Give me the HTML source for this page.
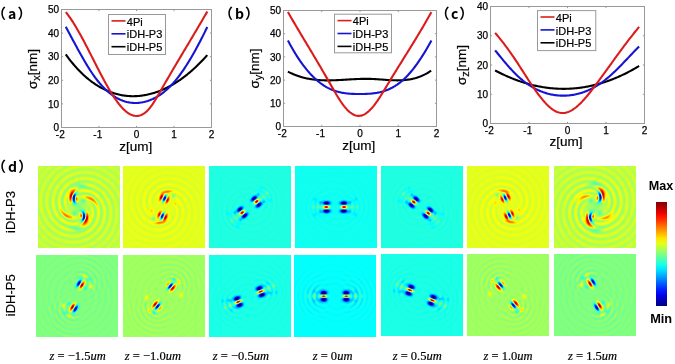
<!DOCTYPE html>
<html><head><meta charset="utf-8"><title>Figure</title>
<style>
html,body{margin:0;padding:0;background:#fff;width:675px;height:364px;overflow:hidden}
#root{position:relative;width:675px;height:364px;background:#fff}
svg{position:absolute;left:0;top:0}
</style></head><body><div id="root">
<canvas id="t00" width="82" height="82" style="position:absolute;left:38px;top:166px;width:82px;height:82px;background:#c2ff3d;filter:blur(0.45px)"></canvas>
<canvas id="t01" width="82" height="82" style="position:absolute;left:123px;top:166px;width:82px;height:82px;background:#e2ff1d;filter:blur(0.45px)"></canvas>
<canvas id="t02" width="82" height="82" style="position:absolute;left:209px;top:166px;width:82px;height:82px;background:#1fffe0;filter:blur(0.45px)"></canvas>
<canvas id="t03" width="82" height="82" style="position:absolute;left:295px;top:166px;width:82px;height:82px;background:#0ffff0;filter:blur(0.45px)"></canvas>
<canvas id="t04" width="82" height="82" style="position:absolute;left:381px;top:166px;width:82px;height:82px;background:#1fffe0;filter:blur(0.45px)"></canvas>
<canvas id="t05" width="82" height="82" style="position:absolute;left:467px;top:166px;width:82px;height:82px;background:#e2ff1d;filter:blur(0.45px)"></canvas>
<canvas id="t06" width="82" height="82" style="position:absolute;left:554px;top:166px;width:82px;height:82px;background:#c2ff3d;filter:blur(0.45px)"></canvas>
<canvas id="t10" width="82" height="82" style="position:absolute;left:36px;top:255px;width:82px;height:82px;background:#80ff80;filter:blur(0.45px)"></canvas>
<canvas id="t11" width="82" height="82" style="position:absolute;left:123px;top:255px;width:82px;height:82px;background:#9eff61;filter:blur(0.45px)"></canvas>
<canvas id="t12" width="82" height="82" style="position:absolute;left:209px;top:255px;width:82px;height:82px;background:#1affe5;filter:blur(0.45px)"></canvas>
<canvas id="t13" width="82" height="82" style="position:absolute;left:294px;top:255px;width:82px;height:82px;background:#03fffc;filter:blur(0.45px)"></canvas>
<canvas id="t14" width="82" height="82" style="position:absolute;left:381px;top:254px;width:82px;height:82px;background:#1affe5;filter:blur(0.45px)"></canvas>
<canvas id="t15" width="82" height="82" style="position:absolute;left:467px;top:254px;width:82px;height:82px;background:#9eff61;filter:blur(0.45px)"></canvas>
<canvas id="t16" width="82" height="82" style="position:absolute;left:554px;top:254px;width:82px;height:82px;background:#80ff80;filter:blur(0.45px)"></canvas>
<div style="position:absolute;left:656px;top:202px;width:11px;height:104px;background:linear-gradient(to bottom,#800000 0.0%,#b30000 5.0%,#e50000 10.0%,#ff1a00 15.0%,#ff4c00 20.0%,#ff8000 25.0%,#ffb300 30.0%,#ffe500 35.0%,#e5ff1a 40.0%,#b3ff4c 45.0%,#80ff80 50.0%,#4cffb3 55.0%,#1affe5 60.0%,#00e5ff 65.0%,#00b3ff 70.0%,#0080ff 75.0%,#004cff 80.0%,#001aff 85.0%,#0000e5 90.0%,#0000b3 95.0%,#000080 100.0%)"></div>
<svg width="675" height="364" viewBox="0 0 675 364">
<clipPath id="clipa"><rect x="61.50" y="9.50" width="150.00" height="118.00"/></clipPath>
<path d="M65.80,54.47 L66.80,55.85 L67.80,57.20 L68.80,58.53 L69.80,59.82 L70.80,61.09 L71.80,62.33 L72.80,63.54 L73.80,64.73 L74.80,65.89 L75.80,67.02 L76.80,68.13 L77.80,69.21 L78.80,70.27 L79.80,71.30 L80.80,72.30 L81.80,73.29 L82.80,74.24 L83.80,75.17 L84.80,76.08 L85.80,76.97 L86.80,77.83 L87.80,78.66 L88.80,79.48 L89.80,80.27 L90.80,81.04 L91.80,81.79 L92.80,82.52 L93.80,83.22 L94.80,83.90 L95.80,84.57 L96.80,85.21 L97.80,85.83 L98.80,86.43 L99.80,87.01 L100.80,87.57 L101.80,88.11 L102.80,88.64 L103.80,89.14 L104.80,89.63 L105.80,90.09 L106.80,90.54 L107.80,90.97 L108.80,91.39 L109.80,91.78 L110.80,92.16 L111.80,92.52 L112.80,92.86 L113.80,93.19 L114.80,93.50 L115.80,93.79 L116.80,94.06 L117.80,94.32 L118.80,94.56 L119.80,94.78 L120.80,94.99 L121.80,95.18 L122.80,95.35 L123.80,95.51 L124.80,95.65 L125.80,95.77 L126.80,95.88 L127.80,95.97 L128.80,96.05 L129.80,96.11 L130.80,96.15 L131.80,96.18 L132.80,96.19 L133.80,96.19 L134.80,96.17 L135.80,96.14 L136.80,96.09 L137.80,96.02 L138.80,95.94 L139.80,95.85 L140.80,95.74 L141.80,95.61 L142.80,95.48 L143.80,95.32 L144.80,95.15 L145.80,94.97 L146.80,94.77 L147.80,94.56 L148.80,94.33 L149.80,94.09 L150.80,93.84 L151.80,93.57 L152.80,93.28 L153.80,92.98 L154.80,92.67 L155.80,92.34 L156.80,92.00 L157.80,91.64 L158.80,91.27 L159.80,90.89 L160.80,90.49 L161.80,90.07 L162.80,89.64 L163.80,89.20 L164.80,88.74 L165.80,88.26 L166.80,87.77 L167.80,87.27 L168.80,86.75 L169.80,86.22 L170.80,85.67 L171.80,85.10 L172.80,84.52 L173.80,83.93 L174.80,83.32 L175.80,82.69 L176.80,82.05 L177.80,81.40 L178.80,80.73 L179.80,80.04 L180.80,79.34 L181.80,78.63 L182.80,77.89 L183.80,77.15 L184.80,76.38 L185.80,75.61 L186.80,74.81 L187.80,74.00 L188.80,73.18 L189.80,72.34 L190.80,71.48 L191.80,70.61 L192.80,69.72 L193.80,68.82 L194.80,67.90 L195.80,66.97 L196.80,66.02 L197.80,65.05 L198.80,64.07 L199.80,63.08 L200.80,62.06 L201.80,61.04 L202.80,59.99 L203.80,58.93 L204.80,57.86 L205.80,56.76 L206.80,55.66 L207.30,55.10" fill="none" stroke="#000000" stroke-width="2.1" stroke-linejoin="round" stroke-linecap="butt" clip-path="url(#clipa)"/>
<path d="M65.80,26.85 L66.80,28.70 L67.80,30.56 L68.80,32.42 L69.80,34.28 L70.80,36.15 L71.80,38.02 L72.80,39.89 L73.80,41.75 L74.80,43.61 L75.80,45.46 L76.80,47.31 L77.80,49.14 L78.80,50.96 L79.80,52.77 L80.80,54.57 L81.80,56.34 L82.80,58.10 L83.80,59.84 L84.80,61.55 L85.80,63.24 L86.80,64.91 L87.80,66.54 L88.80,68.15 L89.80,69.73 L90.80,71.27 L91.80,72.77 L92.80,74.25 L93.80,75.68 L94.80,77.07 L95.80,78.42 L96.80,79.73 L97.80,80.99 L98.80,82.22 L99.80,83.41 L100.80,84.55 L101.80,85.66 L102.80,86.73 L103.80,87.76 L104.80,88.75 L105.80,89.71 L106.80,90.63 L107.80,91.51 L108.80,92.36 L109.80,93.17 L110.80,93.95 L111.80,94.69 L112.80,95.40 L113.80,96.08 L114.80,96.73 L115.80,97.34 L116.80,97.92 L117.80,98.46 L118.80,98.97 L119.80,99.46 L120.80,99.91 L121.80,100.32 L122.80,100.71 L123.80,101.06 L124.80,101.39 L125.80,101.68 L126.80,101.95 L127.80,102.18 L128.80,102.38 L129.80,102.56 L130.80,102.70 L131.80,102.82 L132.80,102.90 L133.80,102.96 L134.80,102.99 L135.80,102.99 L136.80,102.96 L137.80,102.91 L138.80,102.83 L139.80,102.72 L140.80,102.58 L141.80,102.42 L142.80,102.23 L143.80,102.02 L144.80,101.77 L145.80,101.51 L146.80,101.21 L147.80,100.90 L148.80,100.55 L149.80,100.19 L150.80,99.79 L151.80,99.37 L152.80,98.93 L153.80,98.45 L154.80,97.95 L155.80,97.42 L156.80,96.86 L157.80,96.28 L158.80,95.66 L159.80,95.01 L160.80,94.33 L161.80,93.62 L162.80,92.88 L163.80,92.11 L164.80,91.30 L165.80,90.46 L166.80,89.59 L167.80,88.68 L168.80,87.74 L169.80,86.76 L170.80,85.75 L171.80,84.70 L172.80,83.61 L173.80,82.49 L174.80,81.33 L175.80,80.14 L176.80,78.90 L177.80,77.64 L178.80,76.33 L179.80,75.00 L180.80,73.63 L181.80,72.22 L182.80,70.79 L183.80,69.32 L184.80,67.82 L185.80,66.29 L186.80,64.73 L187.80,63.14 L188.80,61.52 L189.80,59.88 L190.80,58.20 L191.80,56.50 L192.80,54.77 L193.80,53.01 L194.80,51.23 L195.80,49.42 L196.80,47.59 L197.80,45.73 L198.80,43.85 L199.80,41.95 L200.80,40.03 L201.80,38.08 L202.80,36.11 L203.80,34.12 L204.80,32.11 L205.80,30.08 L206.80,28.04 L207.30,27.00" fill="none" stroke="#1414d2" stroke-width="2.1" stroke-linejoin="round" stroke-linecap="butt" clip-path="url(#clipa)"/>
<path d="M65.80,12.18 L66.80,13.42 L67.80,14.72 L68.80,16.06 L69.80,17.46 L70.80,18.90 L71.80,20.39 L72.80,21.92 L73.80,23.50 L74.80,25.11 L75.80,26.77 L76.80,28.45 L77.80,30.17 L78.80,31.93 L79.80,33.71 L80.80,35.52 L81.80,37.35 L82.80,39.21 L83.80,41.08 L84.80,42.98 L85.80,44.89 L86.80,46.82 L87.80,48.76 L88.80,50.71 L89.80,52.67 L90.80,54.64 L91.80,56.61 L92.80,58.58 L93.80,60.55 L94.80,62.52 L95.80,64.49 L96.80,66.45 L97.80,68.40 L98.80,70.34 L99.80,72.27 L100.80,74.19 L101.80,76.08 L102.80,77.96 L103.80,79.82 L104.80,81.66 L105.80,83.47 L106.80,85.25 L107.80,87.01 L108.80,88.73 L109.80,90.42 L110.80,92.08 L111.80,93.70 L112.80,95.28 L113.80,96.81 L114.80,98.31 L115.80,99.75 L116.80,101.15 L117.80,102.51 L118.80,103.80 L119.80,105.05 L120.80,106.24 L121.80,107.37 L122.80,108.44 L123.80,109.45 L124.80,110.39 L125.80,111.27 L126.80,112.07 L127.80,112.81 L128.80,113.48 L129.80,114.07 L130.80,114.58 L131.80,115.01 L132.80,115.37 L133.80,115.64 L134.80,115.83 L135.80,115.93 L136.80,115.95 L137.80,115.88 L138.80,115.73 L139.80,115.48 L140.80,115.15 L141.80,114.73 L142.80,114.21 L143.80,113.61 L144.80,112.91 L145.80,112.12 L146.80,111.23 L147.80,110.24 L148.80,109.16 L149.80,107.98 L150.80,106.70 L151.80,105.33 L152.80,103.89 L153.80,102.37 L154.80,100.79 L155.80,99.16 L156.80,97.49 L157.80,95.78 L158.80,94.04 L159.80,92.30 L160.80,90.54 L161.80,88.79 L162.80,87.04 L163.80,85.30 L164.80,83.56 L165.80,81.83 L166.80,80.10 L167.80,78.38 L168.80,76.67 L169.80,74.96 L170.80,73.25 L171.80,71.54 L172.80,69.84 L173.80,68.15 L174.80,66.45 L175.80,64.76 L176.80,63.07 L177.80,61.39 L178.80,59.70 L179.80,58.02 L180.80,56.34 L181.80,54.66 L182.80,52.98 L183.80,51.31 L184.80,49.63 L185.80,47.95 L186.80,46.28 L187.80,44.60 L188.80,42.93 L189.80,41.25 L190.80,39.57 L191.80,37.89 L192.80,36.21 L193.80,34.53 L194.80,32.84 L195.80,31.16 L196.80,29.47 L197.80,27.78 L198.80,26.08 L199.80,24.38 L200.80,22.68 L201.80,20.98 L202.80,19.27 L203.80,17.56 L204.80,15.84 L205.80,14.12 L206.80,12.39 L207.30,11.53" fill="none" stroke="#dc1c1c" stroke-width="2.1" stroke-linejoin="round" stroke-linecap="butt" clip-path="url(#clipa)"/>
<rect x="61.50" y="9.50" width="150.00" height="118.00" fill="none" stroke="#999999" stroke-width="1"/>
<path d="M99.00,127.50 V125.90 M99.00,9.50 V11.10" stroke="#999999" stroke-width="1"/>
<path d="M136.50,127.50 V125.90 M136.50,9.50 V11.10" stroke="#999999" stroke-width="1"/>
<path d="M174.00,127.50 V125.90 M174.00,9.50 V11.10" stroke="#999999" stroke-width="1"/>
<path d="M61.50,103.90 H63.10 M211.50,103.90 H209.90" stroke="#999999" stroke-width="1"/>
<path d="M61.50,80.30 H63.10 M211.50,80.30 H209.90" stroke="#999999" stroke-width="1"/>
<path d="M61.50,56.70 H63.10 M211.50,56.70 H209.90" stroke="#999999" stroke-width="1"/>
<path d="M61.50,33.10 H63.10 M211.50,33.10 H209.90" stroke="#999999" stroke-width="1"/>
<text x="60.30" y="138.40" font-size="10.00" text-anchor="middle" font-weight="normal" font-family='"Liberation Sans", Arial, sans-serif' stroke="#000" stroke-width="0.25" style="">-2</text>
<text x="97.80" y="138.40" font-size="10.00" text-anchor="middle" font-weight="normal" font-family='"Liberation Sans", Arial, sans-serif' stroke="#000" stroke-width="0.25" style="">-1</text>
<text x="136.50" y="138.40" font-size="10.00" text-anchor="middle" font-weight="normal" font-family='"Liberation Sans", Arial, sans-serif' stroke="#000" stroke-width="0.25" style="">0</text>
<text x="174.00" y="138.40" font-size="10.00" text-anchor="middle" font-weight="normal" font-family='"Liberation Sans", Arial, sans-serif' stroke="#000" stroke-width="0.25" style="">1</text>
<text x="211.50" y="138.40" font-size="10.00" text-anchor="middle" font-weight="normal" font-family='"Liberation Sans", Arial, sans-serif' stroke="#000" stroke-width="0.25" style="">2</text>
<text x="59.00" y="131.10" font-size="10.00" text-anchor="end" font-weight="normal" font-family='"Liberation Sans", Arial, sans-serif' stroke="#000" stroke-width="0.25" style="">0</text>
<text x="59.00" y="107.50" font-size="10.00" text-anchor="end" font-weight="normal" font-family='"Liberation Sans", Arial, sans-serif' stroke="#000" stroke-width="0.25" style="">10</text>
<text x="59.00" y="83.90" font-size="10.00" text-anchor="end" font-weight="normal" font-family='"Liberation Sans", Arial, sans-serif' stroke="#000" stroke-width="0.25" style="">20</text>
<text x="59.00" y="60.30" font-size="10.00" text-anchor="end" font-weight="normal" font-family='"Liberation Sans", Arial, sans-serif' stroke="#000" stroke-width="0.25" style="">30</text>
<text x="59.00" y="36.70" font-size="10.00" text-anchor="end" font-weight="normal" font-family='"Liberation Sans", Arial, sans-serif' stroke="#000" stroke-width="0.25" style="">40</text>
<text x="59.00" y="13.10" font-size="10.00" text-anchor="end" font-weight="normal" font-family='"Liberation Sans", Arial, sans-serif' stroke="#000" stroke-width="0.25" style="">50</text>
<text x="135.70" y="151.40" font-size="13.50" text-anchor="middle" font-weight="normal" font-family='"Liberation Sans", Arial, sans-serif' stroke="#000" stroke-width="0.2" style="">z[um]</text>
<text transform="translate(36.70,69.00) rotate(-90)" font-size="13.5" text-anchor="middle" stroke="#000" stroke-width="0.2" font-family='"Liberation Sans", Arial, sans-serif'>&#963;<tspan font-size="11" dy="3.6">x</tspan><tspan dy="-3.6">[nm]</tspan></text>
<rect x="108.50" y="14.50" width="57.00" height="40.00" fill="#fff" stroke="#999999" stroke-width="1"/>
<path d="M111.50,20.90 H125.50" stroke="#dc1c1c" stroke-width="1.6"/>
<text x="126.80" y="25.50" font-size="11.00" text-anchor="start" font-weight="normal" font-family='"Liberation Sans", Arial, sans-serif' stroke="#000" stroke-width="0.2" style="">4Pi</text>
<path d="M111.50,33.80 H125.50" stroke="#1414d2" stroke-width="1.6"/>
<text x="126.80" y="38.40" font-size="11.00" text-anchor="start" font-weight="normal" font-family='"Liberation Sans", Arial, sans-serif' stroke="#000" stroke-width="0.2" style="">iDH-P3</text>
<path d="M111.50,46.70 H125.50" stroke="#000000" stroke-width="1.6"/>
<text x="126.80" y="51.30" font-size="11.00" text-anchor="start" font-weight="normal" font-family='"Liberation Sans", Arial, sans-serif' stroke="#000" stroke-width="0.2" style="">iDH-P5</text>
<clipPath id="clipb"><rect x="283.50" y="10.50" width="153.00" height="116.00"/></clipPath>
<path d="M287.90,71.63 L288.90,72.14 L289.90,72.64 L290.90,73.11 L291.90,73.57 L292.90,74.01 L293.90,74.43 L294.90,74.84 L295.90,75.22 L296.90,75.59 L297.90,75.94 L298.90,76.28 L299.90,76.60 L300.90,76.90 L301.90,77.19 L302.90,77.46 L303.90,77.72 L304.90,77.97 L305.90,78.20 L306.90,78.41 L307.90,78.61 L308.90,78.80 L309.90,78.98 L310.90,79.14 L311.90,79.30 L312.90,79.44 L313.90,79.57 L314.90,79.68 L315.90,79.79 L316.90,79.89 L317.90,79.98 L318.90,80.05 L319.90,80.12 L320.90,80.18 L321.90,80.23 L322.90,80.27 L323.90,80.30 L324.90,80.33 L325.90,80.35 L326.90,80.36 L327.90,80.36 L328.90,80.36 L329.90,80.35 L330.90,80.34 L331.90,80.32 L332.90,80.29 L333.90,80.26 L334.90,80.23 L335.90,80.19 L336.90,80.15 L337.90,80.11 L338.90,80.06 L339.90,80.01 L340.90,79.95 L341.90,79.90 L342.90,79.84 L343.90,79.78 L344.90,79.72 L345.90,79.66 L346.90,79.60 L347.90,79.54 L348.90,79.48 L349.90,79.42 L350.90,79.37 L351.90,79.31 L352.90,79.25 L353.90,79.20 L354.90,79.15 L355.90,79.10 L356.90,79.05 L357.90,79.01 L358.90,78.97 L359.90,78.94 L360.90,78.91 L361.90,78.88 L362.90,78.86 L363.90,78.84 L364.90,78.83 L365.90,78.83 L366.90,78.83 L367.90,78.84 L368.90,78.85 L369.90,78.88 L370.90,78.91 L371.90,78.95 L372.90,78.99 L373.90,79.04 L374.90,79.09 L375.90,79.15 L376.90,79.22 L377.90,79.28 L378.90,79.35 L379.90,79.43 L380.90,79.50 L381.90,79.57 L382.90,79.65 L383.90,79.72 L384.90,79.79 L385.90,79.86 L386.90,79.93 L387.90,79.99 L388.90,80.05 L389.90,80.11 L390.90,80.16 L391.90,80.21 L392.90,80.25 L393.90,80.28 L394.90,80.31 L395.90,80.32 L396.90,80.33 L397.90,80.33 L398.90,80.32 L399.90,80.30 L400.90,80.26 L401.90,80.22 L402.90,80.16 L403.90,80.09 L404.90,80.00 L405.90,79.90 L406.90,79.79 L407.90,79.66 L408.90,79.51 L409.90,79.35 L410.90,79.16 L411.90,78.96 L412.90,78.74 L413.90,78.50 L414.90,78.25 L415.90,77.97 L416.90,77.66 L417.90,77.34 L418.90,76.99 L419.90,76.62 L420.90,76.23 L421.90,75.81 L422.90,75.36 L423.90,74.89 L424.90,74.40 L425.90,73.87 L426.90,73.32 L427.90,72.74 L428.90,72.13 L429.90,71.49 L430.90,70.82 L431.10,70.68" fill="none" stroke="#000000" stroke-width="2.1" stroke-linejoin="round" stroke-linecap="butt" clip-path="url(#clipb)"/>
<path d="M287.90,40.48 L288.90,42.36 L289.90,44.21 L290.90,46.02 L291.90,47.79 L292.90,49.53 L293.90,51.22 L294.90,52.88 L295.90,54.50 L296.90,56.08 L297.90,57.63 L298.90,59.14 L299.90,60.61 L300.90,62.05 L301.90,63.45 L302.90,64.82 L303.90,66.15 L304.90,67.44 L305.90,68.70 L306.90,69.92 L307.90,71.11 L308.90,72.26 L309.90,73.38 L310.90,74.47 L311.90,75.52 L312.90,76.54 L313.90,77.52 L314.90,78.47 L315.90,79.39 L316.90,80.27 L317.90,81.12 L318.90,81.94 L319.90,82.73 L320.90,83.48 L321.90,84.21 L322.90,84.90 L323.90,85.56 L324.90,86.19 L325.90,86.78 L326.90,87.35 L327.90,87.89 L328.90,88.39 L329.90,88.87 L330.90,89.32 L331.90,89.75 L332.90,90.14 L333.90,90.52 L334.90,90.87 L335.90,91.19 L336.90,91.49 L337.90,91.77 L338.90,92.03 L339.90,92.27 L340.90,92.49 L341.90,92.69 L342.90,92.87 L343.90,93.03 L344.90,93.18 L345.90,93.31 L346.90,93.43 L347.90,93.53 L348.90,93.63 L349.90,93.71 L350.90,93.77 L351.90,93.83 L352.90,93.88 L353.90,93.92 L354.90,93.95 L355.90,93.97 L356.90,93.99 L357.90,94.00 L358.90,94.00 L359.90,94.00 L360.90,94.00 L361.90,94.00 L362.90,93.98 L363.90,93.97 L364.90,93.94 L365.90,93.91 L366.90,93.87 L367.90,93.82 L368.90,93.76 L369.90,93.69 L370.90,93.61 L371.90,93.52 L372.90,93.41 L373.90,93.29 L374.90,93.15 L375.90,93.00 L376.90,92.84 L377.90,92.65 L378.90,92.45 L379.90,92.23 L380.90,91.98 L381.90,91.72 L382.90,91.44 L383.90,91.14 L384.90,90.81 L385.90,90.46 L386.90,90.08 L387.90,89.68 L388.90,89.26 L389.90,88.80 L390.90,88.32 L391.90,87.81 L392.90,87.27 L393.90,86.70 L394.90,86.11 L395.90,85.47 L396.90,84.81 L397.90,84.11 L398.90,83.38 L399.90,82.62 L400.90,81.82 L401.90,80.98 L402.90,80.11 L403.90,79.19 L404.90,78.24 L405.90,77.26 L406.90,76.23 L407.90,75.17 L408.90,74.07 L409.90,72.94 L410.90,71.77 L411.90,70.57 L412.90,69.33 L413.90,68.05 L414.90,66.75 L415.90,65.40 L416.90,64.03 L417.90,62.62 L418.90,61.18 L419.90,59.71 L420.90,58.21 L421.90,56.67 L422.90,55.11 L423.90,53.51 L424.90,51.89 L425.90,50.23 L426.90,48.54 L427.90,46.83 L428.90,45.09 L429.90,43.32 L430.90,41.52 L431.40,40.61" fill="none" stroke="#1414d2" stroke-width="2.1" stroke-linejoin="round" stroke-linecap="butt" clip-path="url(#clipb)"/>
<path d="M287.90,12.03 L288.90,13.77 L289.90,15.49 L290.90,17.22 L291.90,18.93 L292.90,20.64 L293.90,22.35 L294.90,24.05 L295.90,25.75 L296.90,27.44 L297.90,29.13 L298.90,30.81 L299.90,32.49 L300.90,34.17 L301.90,35.85 L302.90,37.53 L303.90,39.20 L304.90,40.87 L305.90,42.54 L306.90,44.22 L307.90,45.89 L308.90,47.56 L309.90,49.23 L310.90,50.90 L311.90,52.58 L312.90,54.25 L313.90,55.93 L314.90,57.61 L315.90,59.30 L316.90,60.98 L317.90,62.67 L318.90,64.37 L319.90,66.07 L320.90,67.77 L321.90,69.48 L322.90,71.19 L323.90,72.91 L324.90,74.64 L325.90,76.37 L326.90,78.11 L327.90,79.85 L328.90,81.61 L329.90,83.36 L330.90,85.13 L331.90,86.88 L332.90,88.63 L333.90,90.37 L334.90,92.08 L335.90,93.78 L336.90,95.44 L337.90,97.07 L338.90,98.66 L339.90,100.21 L340.90,101.71 L341.90,103.16 L342.90,104.54 L343.90,105.87 L344.90,107.12 L345.90,108.31 L346.90,109.41 L347.90,110.43 L348.90,111.37 L349.90,112.22 L350.90,112.99 L351.90,113.67 L352.90,114.26 L353.90,114.77 L354.90,115.18 L355.90,115.50 L356.90,115.72 L357.90,115.85 L358.90,115.88 L359.90,115.81 L360.90,115.65 L361.90,115.39 L362.90,115.04 L363.90,114.59 L364.90,114.06 L365.90,113.43 L366.90,112.73 L367.90,111.94 L368.90,111.07 L369.90,110.13 L370.90,109.11 L371.90,108.02 L372.90,106.86 L373.90,105.63 L374.90,104.33 L375.90,102.98 L376.90,101.58 L377.90,100.13 L378.90,98.63 L379.90,97.10 L380.90,95.53 L381.90,93.93 L382.90,92.31 L383.90,90.67 L384.90,89.01 L385.90,87.35 L386.90,85.68 L387.90,84.02 L388.90,82.35 L389.90,80.70 L390.90,79.05 L391.90,77.41 L392.90,75.77 L393.90,74.14 L394.90,72.51 L395.90,70.89 L396.90,69.27 L397.90,67.66 L398.90,66.04 L399.90,64.43 L400.90,62.83 L401.90,61.22 L402.90,59.61 L403.90,58.01 L404.90,56.40 L405.90,54.80 L406.90,53.19 L407.90,51.58 L408.90,49.97 L409.90,48.35 L410.90,46.74 L411.90,45.12 L412.90,43.49 L413.90,41.86 L414.90,40.23 L415.90,38.59 L416.90,36.95 L417.90,35.30 L418.90,33.64 L419.90,31.97 L420.90,30.30 L421.90,28.62 L422.90,26.93 L423.90,25.23 L424.90,23.52 L425.90,21.80 L426.90,20.06 L427.90,18.32 L428.90,16.57 L429.90,14.80 L430.90,13.02 L431.40,12.13" fill="none" stroke="#dc1c1c" stroke-width="2.1" stroke-linejoin="round" stroke-linecap="butt" clip-path="url(#clipb)"/>
<rect x="283.50" y="10.50" width="153.00" height="116.00" fill="none" stroke="#999999" stroke-width="1"/>
<path d="M321.75,126.50 V124.90 M321.75,10.50 V12.10" stroke="#999999" stroke-width="1"/>
<path d="M360.00,126.50 V124.90 M360.00,10.50 V12.10" stroke="#999999" stroke-width="1"/>
<path d="M398.25,126.50 V124.90 M398.25,10.50 V12.10" stroke="#999999" stroke-width="1"/>
<path d="M283.50,103.30 H285.10 M436.50,103.30 H434.90" stroke="#999999" stroke-width="1"/>
<path d="M283.50,80.10 H285.10 M436.50,80.10 H434.90" stroke="#999999" stroke-width="1"/>
<path d="M283.50,56.90 H285.10 M436.50,56.90 H434.90" stroke="#999999" stroke-width="1"/>
<path d="M283.50,33.70 H285.10 M436.50,33.70 H434.90" stroke="#999999" stroke-width="1"/>
<text x="282.30" y="137.00" font-size="10.00" text-anchor="middle" font-weight="normal" font-family='"Liberation Sans", Arial, sans-serif' stroke="#000" stroke-width="0.25" style="">-2</text>
<text x="320.55" y="137.00" font-size="10.00" text-anchor="middle" font-weight="normal" font-family='"Liberation Sans", Arial, sans-serif' stroke="#000" stroke-width="0.25" style="">-1</text>
<text x="360.00" y="137.00" font-size="10.00" text-anchor="middle" font-weight="normal" font-family='"Liberation Sans", Arial, sans-serif' stroke="#000" stroke-width="0.25" style="">0</text>
<text x="398.25" y="137.00" font-size="10.00" text-anchor="middle" font-weight="normal" font-family='"Liberation Sans", Arial, sans-serif' stroke="#000" stroke-width="0.25" style="">1</text>
<text x="436.50" y="137.00" font-size="10.00" text-anchor="middle" font-weight="normal" font-family='"Liberation Sans", Arial, sans-serif' stroke="#000" stroke-width="0.25" style="">2</text>
<text x="281.00" y="130.10" font-size="10.00" text-anchor="end" font-weight="normal" font-family='"Liberation Sans", Arial, sans-serif' stroke="#000" stroke-width="0.25" style="">0</text>
<text x="281.00" y="106.90" font-size="10.00" text-anchor="end" font-weight="normal" font-family='"Liberation Sans", Arial, sans-serif' stroke="#000" stroke-width="0.25" style="">10</text>
<text x="281.00" y="83.70" font-size="10.00" text-anchor="end" font-weight="normal" font-family='"Liberation Sans", Arial, sans-serif' stroke="#000" stroke-width="0.25" style="">20</text>
<text x="281.00" y="60.50" font-size="10.00" text-anchor="end" font-weight="normal" font-family='"Liberation Sans", Arial, sans-serif' stroke="#000" stroke-width="0.25" style="">30</text>
<text x="281.00" y="37.30" font-size="10.00" text-anchor="end" font-weight="normal" font-family='"Liberation Sans", Arial, sans-serif' stroke="#000" stroke-width="0.25" style="">40</text>
<text x="281.00" y="14.10" font-size="10.00" text-anchor="end" font-weight="normal" font-family='"Liberation Sans", Arial, sans-serif' stroke="#000" stroke-width="0.25" style="">50</text>
<text x="358.80" y="149.50" font-size="13.50" text-anchor="middle" font-weight="normal" font-family='"Liberation Sans", Arial, sans-serif' stroke="#000" stroke-width="0.2" style="">z[um]</text>
<text transform="translate(258.70,68.50) rotate(-90)" font-size="13.5" text-anchor="middle" stroke="#000" stroke-width="0.2" font-family='"Liberation Sans", Arial, sans-serif'>&#963;<tspan font-size="11" dy="3.6">y</tspan><tspan dy="-3.6">[nm]</tspan></text>
<rect x="334.50" y="14.20" width="57.00" height="38.60" fill="#fff" stroke="#999999" stroke-width="1"/>
<path d="M337.50,20.60 H351.50" stroke="#dc1c1c" stroke-width="1.6"/>
<text x="352.80" y="25.20" font-size="11.00" text-anchor="start" font-weight="normal" font-family='"Liberation Sans", Arial, sans-serif' stroke="#000" stroke-width="0.2" style="">4Pi</text>
<path d="M337.50,33.50 H351.50" stroke="#1414d2" stroke-width="1.6"/>
<text x="352.80" y="38.10" font-size="11.00" text-anchor="start" font-weight="normal" font-family='"Liberation Sans", Arial, sans-serif' stroke="#000" stroke-width="0.2" style="">iDH-P3</text>
<path d="M337.50,46.40 H351.50" stroke="#000000" stroke-width="1.6"/>
<text x="352.80" y="51.00" font-size="11.00" text-anchor="start" font-weight="normal" font-family='"Liberation Sans", Arial, sans-serif' stroke="#000" stroke-width="0.2" style="">iDH-P5</text>
<clipPath id="clipc"><rect x="490.50" y="6.50" width="154.00" height="117.00"/></clipPath>
<path d="M495.10,70.42 L496.10,70.95 L497.10,71.47 L498.10,71.99 L499.10,72.50 L500.10,73.00 L501.10,73.49 L502.10,73.97 L503.10,74.45 L504.10,74.92 L505.10,75.38 L506.10,75.84 L507.10,76.28 L508.10,76.72 L509.10,77.15 L510.10,77.57 L511.10,77.99 L512.10,78.40 L513.10,78.80 L514.10,79.19 L515.10,79.57 L516.10,79.95 L517.10,80.32 L518.10,80.68 L519.10,81.03 L520.10,81.38 L521.10,81.71 L522.10,82.04 L523.10,82.37 L524.10,82.68 L525.10,82.99 L526.10,83.29 L527.10,83.58 L528.10,83.86 L529.10,84.14 L530.10,84.40 L531.10,84.66 L532.10,84.92 L533.10,85.16 L534.10,85.40 L535.10,85.63 L536.10,85.85 L537.10,86.06 L538.10,86.26 L539.10,86.46 L540.10,86.65 L541.10,86.83 L542.10,87.01 L543.10,87.17 L544.10,87.33 L545.10,87.48 L546.10,87.62 L547.10,87.76 L548.10,87.89 L549.10,88.00 L550.10,88.11 L551.10,88.22 L552.10,88.31 L553.10,88.40 L554.10,88.48 L555.10,88.55 L556.10,88.61 L557.10,88.67 L558.10,88.72 L559.10,88.76 L560.10,88.79 L561.10,88.81 L562.10,88.83 L563.10,88.84 L564.10,88.84 L565.10,88.83 L566.10,88.82 L567.10,88.79 L568.10,88.76 L569.10,88.72 L570.10,88.67 L571.10,88.62 L572.10,88.55 L573.10,88.48 L574.10,88.40 L575.10,88.32 L576.10,88.22 L577.10,88.12 L578.10,88.01 L579.10,87.89 L580.10,87.76 L581.10,87.63 L582.10,87.48 L583.10,87.33 L584.10,87.17 L585.10,87.00 L586.10,86.83 L587.10,86.65 L588.10,86.45 L589.10,86.25 L590.10,86.05 L591.10,85.83 L592.10,85.61 L593.10,85.38 L594.10,85.14 L595.10,84.89 L596.10,84.63 L597.10,84.37 L598.10,84.10 L599.10,83.82 L600.10,83.53 L601.10,83.24 L602.10,82.93 L603.10,82.62 L604.10,82.30 L605.10,81.97 L606.10,81.63 L607.10,81.29 L608.10,80.94 L609.10,80.58 L610.10,80.21 L611.10,79.83 L612.10,79.44 L613.10,79.05 L614.10,78.65 L615.10,78.24 L616.10,77.82 L617.10,77.40 L618.10,76.96 L619.10,76.52 L620.10,76.07 L621.10,75.61 L622.10,75.15 L623.10,74.67 L624.10,74.19 L625.10,73.70 L626.10,73.20 L627.10,72.69 L628.10,72.17 L629.10,71.65 L630.10,71.12 L631.10,70.58 L632.10,70.03 L633.10,69.47 L634.10,68.91 L635.10,68.34 L636.10,67.76 L637.10,67.17 L638.10,66.57 L639.10,65.96" fill="none" stroke="#000000" stroke-width="2.1" stroke-linejoin="round" stroke-linecap="butt" clip-path="url(#clipc)"/>
<path d="M495.10,50.29 L496.10,51.53 L497.10,52.77 L498.10,54.01 L499.10,55.24 L500.10,56.47 L501.10,57.69 L502.10,58.90 L503.10,60.10 L504.10,61.30 L505.10,62.48 L506.10,63.66 L507.10,64.82 L508.10,65.96 L509.10,67.09 L510.10,68.21 L511.10,69.31 L512.10,70.39 L513.10,71.45 L514.10,72.48 L515.10,73.50 L516.10,74.49 L517.10,75.46 L518.10,76.41 L519.10,77.33 L520.10,78.22 L521.10,79.08 L522.10,79.92 L523.10,80.73 L524.10,81.52 L525.10,82.28 L526.10,83.01 L527.10,83.73 L528.10,84.41 L529.10,85.08 L530.10,85.72 L531.10,86.34 L532.10,86.94 L533.10,87.51 L534.10,88.07 L535.10,88.60 L536.10,89.12 L537.10,89.61 L538.10,90.08 L539.10,90.53 L540.10,90.96 L541.10,91.37 L542.10,91.76 L543.10,92.13 L544.10,92.48 L545.10,92.81 L546.10,93.13 L547.10,93.42 L548.10,93.70 L549.10,93.95 L550.10,94.19 L551.10,94.41 L552.10,94.61 L553.10,94.79 L554.10,94.96 L555.10,95.10 L556.10,95.23 L557.10,95.34 L558.10,95.44 L559.10,95.52 L560.10,95.58 L561.10,95.62 L562.10,95.65 L563.10,95.66 L564.10,95.66 L565.10,95.64 L566.10,95.60 L567.10,95.54 L568.10,95.47 L569.10,95.39 L570.10,95.28 L571.10,95.16 L572.10,95.02 L573.10,94.86 L574.10,94.69 L575.10,94.50 L576.10,94.29 L577.10,94.06 L578.10,93.81 L579.10,93.55 L580.10,93.27 L581.10,92.97 L582.10,92.65 L583.10,92.31 L584.10,91.96 L585.10,91.58 L586.10,91.19 L587.10,90.78 L588.10,90.35 L589.10,89.90 L590.10,89.43 L591.10,88.94 L592.10,88.43 L593.10,87.90 L594.10,87.35 L595.10,86.78 L596.10,86.20 L597.10,85.59 L598.10,84.96 L599.10,84.31 L600.10,83.64 L601.10,82.95 L602.10,82.24 L603.10,81.51 L604.10,80.76 L605.10,79.98 L606.10,79.19 L607.10,78.37 L608.10,77.54 L609.10,76.68 L610.10,75.81 L611.10,74.91 L612.10,74.00 L613.10,73.08 L614.10,72.14 L615.10,71.18 L616.10,70.21 L617.10,69.23 L618.10,68.24 L619.10,67.24 L620.10,66.22 L621.10,65.20 L622.10,64.18 L623.10,63.14 L624.10,62.10 L625.10,61.06 L626.10,60.01 L627.10,58.95 L628.10,57.90 L629.10,56.85 L630.10,55.79 L631.10,54.74 L632.10,53.68 L633.10,52.63 L634.10,51.59 L635.10,50.55 L636.10,49.51 L637.10,48.48 L638.10,47.46 L639.10,46.45" fill="none" stroke="#1414d2" stroke-width="2.1" stroke-linejoin="round" stroke-linecap="butt" clip-path="url(#clipc)"/>
<path d="M495.10,32.90 L496.10,34.04 L497.10,35.20 L498.10,36.39 L499.10,37.59 L500.10,38.82 L501.10,40.07 L502.10,41.33 L503.10,42.62 L504.10,43.93 L505.10,45.26 L506.10,46.60 L507.10,47.96 L508.10,49.34 L509.10,50.74 L510.10,52.15 L511.10,53.57 L512.10,55.02 L513.10,56.47 L514.10,57.94 L515.10,59.42 L516.10,60.92 L517.10,62.43 L518.10,63.95 L519.10,65.48 L520.10,67.02 L521.10,68.56 L522.10,70.12 L523.10,71.68 L524.10,73.24 L525.10,74.79 L526.10,76.35 L527.10,77.90 L528.10,79.45 L529.10,80.99 L530.10,82.51 L531.10,84.02 L532.10,85.52 L533.10,87.00 L534.10,88.46 L535.10,89.90 L536.10,91.32 L537.10,92.71 L538.10,94.07 L539.10,95.41 L540.10,96.71 L541.10,97.97 L542.10,99.21 L543.10,100.40 L544.10,101.55 L545.10,102.66 L546.10,103.73 L547.10,104.75 L548.10,105.72 L549.10,106.64 L550.10,107.51 L551.10,108.32 L552.10,109.08 L553.10,109.77 L554.10,110.41 L555.10,110.98 L556.10,111.49 L557.10,111.93 L558.10,112.30 L559.10,112.60 L560.10,112.83 L561.10,112.98 L562.10,113.06 L563.10,113.06 L564.10,112.99 L565.10,112.84 L566.10,112.63 L567.10,112.36 L568.10,112.02 L569.10,111.62 L570.10,111.15 L571.10,110.63 L572.10,110.06 L573.10,109.42 L574.10,108.74 L575.10,108.00 L576.10,107.22 L577.10,106.39 L578.10,105.52 L579.10,104.60 L580.10,103.64 L581.10,102.64 L582.10,101.61 L583.10,100.54 L584.10,99.44 L585.10,98.31 L586.10,97.15 L587.10,95.96 L588.10,94.75 L589.10,93.51 L590.10,92.26 L591.10,90.98 L592.10,89.69 L593.10,88.38 L594.10,87.06 L595.10,85.72 L596.10,84.38 L597.10,83.03 L598.10,81.68 L599.10,80.32 L600.10,78.95 L601.10,77.59 L602.10,76.21 L603.10,74.84 L604.10,73.46 L605.10,72.08 L606.10,70.70 L607.10,69.31 L608.10,67.93 L609.10,66.54 L610.10,65.16 L611.10,63.77 L612.10,62.39 L613.10,61.00 L614.10,59.62 L615.10,58.24 L616.10,56.86 L617.10,55.49 L618.10,54.12 L619.10,52.75 L620.10,51.39 L621.10,50.03 L622.10,48.68 L623.10,47.33 L624.10,45.99 L625.10,44.66 L626.10,43.33 L627.10,42.01 L628.10,40.70 L629.10,39.40 L630.10,38.10 L631.10,36.82 L632.10,35.54 L633.10,34.28 L634.10,33.02 L635.10,31.78 L636.10,30.55 L637.10,29.33 L638.10,28.12 L639.10,26.92" fill="none" stroke="#dc1c1c" stroke-width="2.1" stroke-linejoin="round" stroke-linecap="butt" clip-path="url(#clipc)"/>
<rect x="490.50" y="6.50" width="154.00" height="117.00" fill="none" stroke="#999999" stroke-width="1"/>
<path d="M529.00,123.50 V121.90 M529.00,6.50 V8.10" stroke="#999999" stroke-width="1"/>
<path d="M567.50,123.50 V121.90 M567.50,6.50 V8.10" stroke="#999999" stroke-width="1"/>
<path d="M606.00,123.50 V121.90 M606.00,6.50 V8.10" stroke="#999999" stroke-width="1"/>
<path d="M490.50,94.25 H492.10 M644.50,94.25 H642.90" stroke="#999999" stroke-width="1"/>
<path d="M490.50,65.00 H492.10 M644.50,65.00 H642.90" stroke="#999999" stroke-width="1"/>
<path d="M490.50,35.75 H492.10 M644.50,35.75 H642.90" stroke="#999999" stroke-width="1"/>
<text x="489.30" y="133.60" font-size="10.00" text-anchor="middle" font-weight="normal" font-family='"Liberation Sans", Arial, sans-serif' stroke="#000" stroke-width="0.25" style="">-2</text>
<text x="527.80" y="133.60" font-size="10.00" text-anchor="middle" font-weight="normal" font-family='"Liberation Sans", Arial, sans-serif' stroke="#000" stroke-width="0.25" style="">-1</text>
<text x="567.50" y="133.60" font-size="10.00" text-anchor="middle" font-weight="normal" font-family='"Liberation Sans", Arial, sans-serif' stroke="#000" stroke-width="0.25" style="">0</text>
<text x="606.00" y="133.60" font-size="10.00" text-anchor="middle" font-weight="normal" font-family='"Liberation Sans", Arial, sans-serif' stroke="#000" stroke-width="0.25" style="">1</text>
<text x="644.50" y="133.60" font-size="10.00" text-anchor="middle" font-weight="normal" font-family='"Liberation Sans", Arial, sans-serif' stroke="#000" stroke-width="0.25" style="">2</text>
<text x="488.00" y="127.10" font-size="10.00" text-anchor="end" font-weight="normal" font-family='"Liberation Sans", Arial, sans-serif' stroke="#000" stroke-width="0.25" style="">0</text>
<text x="488.00" y="97.85" font-size="10.00" text-anchor="end" font-weight="normal" font-family='"Liberation Sans", Arial, sans-serif' stroke="#000" stroke-width="0.25" style="">10</text>
<text x="488.00" y="68.60" font-size="10.00" text-anchor="end" font-weight="normal" font-family='"Liberation Sans", Arial, sans-serif' stroke="#000" stroke-width="0.25" style="">20</text>
<text x="488.00" y="39.35" font-size="10.00" text-anchor="end" font-weight="normal" font-family='"Liberation Sans", Arial, sans-serif' stroke="#000" stroke-width="0.25" style="">30</text>
<text x="488.00" y="10.10" font-size="10.00" text-anchor="end" font-weight="normal" font-family='"Liberation Sans", Arial, sans-serif' stroke="#000" stroke-width="0.25" style="">40</text>
<text x="566.00" y="146.00" font-size="13.50" text-anchor="middle" font-weight="normal" font-family='"Liberation Sans", Arial, sans-serif' stroke="#000" stroke-width="0.2" style="">z[um]</text>
<text transform="translate(465.70,65.00) rotate(-90)" font-size="13.5" text-anchor="middle" stroke="#000" stroke-width="0.2" font-family='"Liberation Sans", Arial, sans-serif'>&#963;<tspan font-size="11" dy="3.6">z</tspan><tspan dy="-3.6">[nm]</tspan></text>
<rect x="537.50" y="10.60" width="58.30" height="40.00" fill="#fff" stroke="#999999" stroke-width="1"/>
<path d="M540.50,17.00 H554.50" stroke="#dc1c1c" stroke-width="1.6"/>
<text x="555.80" y="21.60" font-size="11.00" text-anchor="start" font-weight="normal" font-family='"Liberation Sans", Arial, sans-serif' stroke="#000" stroke-width="0.2" style="">4Pi</text>
<path d="M540.50,29.90 H554.50" stroke="#1414d2" stroke-width="1.6"/>
<text x="555.80" y="34.50" font-size="11.00" text-anchor="start" font-weight="normal" font-family='"Liberation Sans", Arial, sans-serif' stroke="#000" stroke-width="0.2" style="">iDH-P3</text>
<path d="M540.50,42.80 H554.50" stroke="#000000" stroke-width="1.6"/>
<text x="555.80" y="47.40" font-size="11.00" text-anchor="start" font-weight="normal" font-family='"Liberation Sans", Arial, sans-serif' stroke="#000" stroke-width="0.2" style="">iDH-P5</text>
<text x="-8.00" y="18.30" font-size="14.00" text-anchor="start" font-weight="bold" font-family='"Noto Sans CJK SC", "Liberation Sans", sans-serif'  style="">&#65288;</text>
<text x="7.90" y="18.70" font-size="14.00" text-anchor="start" font-weight="bold" font-family='"Noto Sans CJK SC", "Liberation Sans", sans-serif'  style="">a</text>
<text x="17.50" y="18.30" font-size="14.00" text-anchor="start" font-weight="bold" font-family='"Noto Sans CJK SC", "Liberation Sans", sans-serif'  style="">&#65289;</text>
<text x="219.10" y="18.30" font-size="14.00" text-anchor="start" font-weight="bold" font-family='"Noto Sans CJK SC", "Liberation Sans", sans-serif'  style="">&#65288;</text>
<text x="235.00" y="19.40" font-size="14.00" text-anchor="start" font-weight="bold" font-family='"Noto Sans CJK SC", "Liberation Sans", sans-serif'  style="">b</text>
<text x="245.00" y="18.30" font-size="14.00" text-anchor="start" font-weight="bold" font-family='"Noto Sans CJK SC", "Liberation Sans", sans-serif'  style="">&#65289;</text>
<text x="435.50" y="18.30" font-size="14.00" text-anchor="start" font-weight="bold" font-family='"Noto Sans CJK SC", "Liberation Sans", sans-serif'  style="">&#65288;</text>
<text x="451.00" y="19.40" font-size="14.00" text-anchor="start" font-weight="bold" font-family='"Noto Sans CJK SC", "Liberation Sans", sans-serif'  style="">c</text>
<text x="459.20" y="18.30" font-size="14.00" text-anchor="start" font-weight="bold" font-family='"Noto Sans CJK SC", "Liberation Sans", sans-serif'  style="">&#65289;</text>
<text x="-8.00" y="170.80" font-size="14.00" text-anchor="start" font-weight="bold" font-family='"Noto Sans CJK SC", "Liberation Sans", sans-serif'  style="">&#65288;</text>
<text x="7.90" y="171.60" font-size="14.00" text-anchor="start" font-weight="bold" font-family='"Noto Sans CJK SC", "Liberation Sans", sans-serif'  style="">d</text>
<text x="18.20" y="170.80" font-size="14.00" text-anchor="start" font-weight="bold" font-family='"Noto Sans CJK SC", "Liberation Sans", sans-serif'  style="">&#65289;</text>
<text transform="translate(14.6,212) rotate(-90)" font-size="13" text-anchor="middle" stroke="#000" stroke-width="0.15" font-family='"Liberation Sans", Arial, sans-serif'>iDH-P3</text>
<text transform="translate(14.6,295.3) rotate(-90)" font-size="13" text-anchor="middle" stroke="#000" stroke-width="0.15" font-family='"Liberation Sans", Arial, sans-serif'>iDH-P5</text>
<text x="49.60" y="360" font-size="12.5" stroke="#000" stroke-width="0.2" font-family='"Liberation Serif", "Times New Roman", serif'><tspan font-style="italic">z</tspan> = &#8722;1.5<tspan font-style="italic">um</tspan></text>
<text x="124.80" y="360" font-size="12.5" stroke="#000" stroke-width="0.2" font-family='"Liberation Serif", "Times New Roman", serif'><tspan font-style="italic">z</tspan> = &#8722;1.0<tspan font-style="italic">um</tspan></text>
<text x="212.80" y="360" font-size="12.5" stroke="#000" stroke-width="0.2" font-family='"Liberation Serif", "Times New Roman", serif'><tspan font-style="italic">z</tspan> = &#8722;0.5<tspan font-style="italic">um</tspan></text>
<text x="312.70" y="360" font-size="12.5" stroke="#000" stroke-width="0.2" font-family='"Liberation Serif", "Times New Roman", serif'><tspan font-style="italic">z</tspan> = 0<tspan font-style="italic">um</tspan></text>
<text x="392.70" y="360" font-size="12.5" stroke="#000" stroke-width="0.2" font-family='"Liberation Serif", "Times New Roman", serif'><tspan font-style="italic">z</tspan> = 0.5<tspan font-style="italic">um</tspan></text>
<text x="483.50" y="360" font-size="12.5" stroke="#000" stroke-width="0.2" font-family='"Liberation Serif", "Times New Roman", serif'><tspan font-style="italic">z</tspan> = 1.0<tspan font-style="italic">um</tspan></text>
<text x="568.00" y="360" font-size="12.5" stroke="#000" stroke-width="0.2" font-family='"Liberation Serif", "Times New Roman", serif'><tspan font-style="italic">z</tspan> = 1.5<tspan font-style="italic">um</tspan></text>
<text x="661.00" y="190.40" font-size="12.50" text-anchor="middle" font-weight="bold" font-family='"Liberation Sans", Arial, sans-serif' textLength="24.5" lengthAdjust="spacingAndGlyphs" style="">Max</text>
<text x="661.20" y="323.20" font-size="12.50" text-anchor="middle" font-weight="bold" font-family='"Liberation Sans", Arial, sans-serif' textLength="22" lengthAdjust="spacingAndGlyphs" style="">Min</text>
</svg>
</div>
<script>

(function(){
var P = {"t00":{"bg":0.565,"cx":40.9,"cy":41.3,"rings":[{"a":0.07,"k":1.0,"m":-6,"ph":0.0,"rin":13,"rdec":10},{"a":0.03,"k":1.0,"m":-6,"ph":0.0,"rin":16,"rdec":50}],"feats":[{"t":"C","x":2.1,"y":-9.1,"rho":10.0,"srho":1.4,"phi0":200,"sphi":28,"a":0.5,"sym":1},{"t":"C","x":2.1,"y":-9.1,"rho":7.4,"srho":1.35,"phi0":186,"sphi":30,"a":-0.66,"sym":1},{"t":"C","x":2.1,"y":-9.1,"rho":4.9,"srho":1.0,"phi0":172,"sphi":24,"a":0.33,"sym":1},{"t":"C","x":2.1,"y":-9.1,"rho":12.8,"srho":1.3,"phi0":262,"sphi":22,"a":-0.14,"sym":1},{"t":"L","x":11.6,"y":-8.4,"ang":113.3,"cu":-0.03,"s":[[0,0,0.16,1.45,5.0]],"sym":1},{"t":"L","x":4.5,"y":-6.5,"ang":0,"cu":0,"s":[[0,0,-0.1,1.8,1.8]],"sym":1},{"t":"L","x":-6,"y":-3.5,"ang":0,"cu":0,"s":[[0,0,-0.08,1.5,1.5]],"sym":1},{"t":"L","x":0,"y":0,"ang":0,"cu":0,"s":[[0,0,-0.05,5,5]],"sym":0}]},"t01":{"bg":0.597,"cx":40.45,"cy":41.25,"rings":[{"a":0.035,"k":1.0,"m":-6,"ph":0.0,"rin":13,"rdec":10},{"a":0.013,"k":1.0,"m":-6,"ph":0.0,"rin":16,"rdec":28}],"feats":[{"t":"L","x":1.15,"y":-8.85,"ang":25,"cu":0.0,"s":[[-3.5,0,0.38,1.05,2.6],[0,0,-0.6,1.05,2.5],[3.4,0.3,0.34,1.0,2.4]],"sym":1},{"t":"L","x":3.6,"y":-15.2,"ang":80,"cu":0.0,"s":[[0,0,0.18,1.0,2.8]],"sym":1},{"t":"L","x":9.85,"y":-10.95,"ang":0,"cu":0,"s":[[0,0,-0.12,1.3,1.3]],"sym":1},{"t":"L","x":12.25,"y":-3.95,"ang":0,"cu":0,"s":[[0,0,0.08,1.4,1.4]],"sym":1}]},"t02":{"bg":0.405,"cx":40.4,"cy":41.1,"rings":[{"a":0.012,"k":1.0,"m":2,"ph":0.0,"rin":8,"rdec":20}],"feats":[{"t":"L","x":7.3,"y":-5.6,"ang":52,"cu":0.0,"s":[[0.0,0.0,0.6,1.3,1.9],[-3.9,0.3,-0.46,1.35,2.4],[3.9,0.3,-0.46,1.35,2.4],[0,-7.2,0.1,1.2,1.2],[0,-12.9,0.06,1.2,1.2],[5,-6.2,-0.08,1.1,1.1],[-5,-6.2,-0.08,1.1,1.1],[7.5,-11.3,-0.05,1.3,1.3],[-7.5,-11.3,-0.05,1.3,1.3]],"sym":1},{"t":"A","x":7.3,"y":-5.6,"a":0.05,"k":1.4,"rin":5,"rdec":10,"phi0":-35,"sphi":45,"ph":0.0,"sym":1}]},"t03":{"bg":0.39,"cx":40.2,"cy":41.1,"rings":[{"a":0.012,"k":1.0,"m":2,"ph":0.0,"rin":8,"rdec":20}],"feats":[{"t":"L","x":8.9,"y":0.0,"ang":90,"cu":0.0,"s":[[0.0,0.0,0.6,1.3,1.9],[-3.9,0.3,-0.46,1.35,2.4],[3.9,0.3,-0.46,1.35,2.4],[0,-7.2,0.1,1.2,1.2],[0,-12.9,0.06,1.2,1.2],[5,-6.2,-0.08,1.1,1.1],[-5,-6.2,-0.08,1.1,1.1],[7.5,-11.3,-0.05,1.3,1.3],[-7.5,-11.3,-0.05,1.3,1.3]],"sym":1},{"t":"A","x":8.9,"y":0.0,"a":0.05,"k":1.4,"rin":5,"rdec":10,"phi0":0,"sphi":45,"ph":0.0,"sym":1}]},"t04":{"bg":0.405,"cx":40.0,"cy":41.6,"rings":[{"a":0.012,"k":1.0,"m":-2,"ph":0.0,"rin":8,"rdec":20}],"feats":[{"t":"L","x":-7.3,"y":-5.6,"ang":128,"cu":0.0,"s":[[0.0,-0.0,0.6,1.3,1.9],[-3.9,-0.3,-0.46,1.35,2.4],[3.9,-0.3,-0.46,1.35,2.4],[0,7.2,0.1,1.2,1.2],[0,12.9,0.06,1.2,1.2],[5,6.2,-0.08,1.1,1.1],[-5,6.2,-0.08,1.1,1.1],[7.5,11.3,-0.05,1.3,1.3],[-7.5,11.3,-0.05,1.3,1.3]],"sym":1},{"t":"A","x":-7.3,"y":-5.6,"a":0.05,"k":1.4,"rin":5,"rdec":10,"phi0":215,"sphi":45,"ph":0.0,"sym":1}]},"t05":{"bg":0.597,"cx":40.3,"cy":40.45,"rings":[{"a":0.035,"k":1.0,"m":6,"ph":0.0,"rin":13,"rdec":10},{"a":0.013,"k":1.0,"m":6,"ph":0.0,"rin":16,"rdec":28}],"feats":[{"t":"L","x":-2.1,"y":-8.75,"ang":155,"cu":0.0,"s":[[-3.5,0,0.38,1.05,2.6],[0,0,-0.6,1.05,2.5],[3.4,-0.3,0.34,1.0,2.4]],"sym":1},{"t":"L","x":-3.6,"y":-15.2,"ang":100,"cu":0.0,"s":[[0,0,0.18,1.0,2.8]],"sym":1},{"t":"L","x":-9.85,"y":-10.95,"ang":180,"cu":0,"s":[[0,0,-0.12,1.3,1.3]],"sym":1},{"t":"L","x":-12.25,"y":-3.95,"ang":180,"cu":0,"s":[[0,0,0.08,1.4,1.4]],"sym":1}]},"t06":{"bg":0.565,"cx":41.35,"cy":41.25,"rings":[{"a":0.07,"k":1.0,"m":6,"ph":0.0,"rin":13,"rdec":10},{"a":0.03,"k":1.0,"m":6,"ph":0.0,"rin":16,"rdec":50}],"feats":[{"t":"C","x":-2.1,"y":-10.1,"rho":10.0,"srho":1.4,"phi0":-20,"sphi":28,"a":0.5,"sym":1},{"t":"C","x":-2.1,"y":-10.1,"rho":7.4,"srho":1.35,"phi0":-6,"sphi":30,"a":-0.66,"sym":1},{"t":"C","x":-2.1,"y":-10.1,"rho":4.9,"srho":1.0,"phi0":8,"sphi":24,"a":0.33,"sym":1},{"t":"C","x":-2.1,"y":-10.1,"rho":12.8,"srho":1.3,"phi0":-82,"sphi":22,"a":-0.14,"sym":1},{"t":"L","x":-12.3,"y":-10.8,"ang":72,"cu":-0.03,"s":[[0,0,0.16,1.45,5.0]],"sym":1},{"t":"L","x":-4.5,"y":-6.5,"ang":180,"cu":0,"s":[[0,0,-0.1,1.8,1.8]],"sym":1},{"t":"L","x":6,"y":-3.5,"ang":180,"cu":0,"s":[[0,0,-0.08,1.5,1.5]],"sym":1},{"t":"L","x":0,"y":0,"ang":180,"cu":0,"s":[[0,0,-0.05,5,5]],"sym":0}]},"t10":{"bg":0.5,"cx":41.2,"cy":41.1,"rings":[{"a":0.015,"k":1.0,"m":-2,"ph":0.0,"rin":14,"rdec":30}],"feats":[{"t":"L","x":3.25,"y":-11.9,"ang":31.7,"cu":0.0,"s":[[-1.8,0,-0.5,1.1,2.8],[1.8,0,0.5,1.1,2.8]],"sym":1},{"t":"L","x":7.25,"y":-19.5,"ang":0,"cu":0,"s":[[0,0,0.12,1.3,1.3]],"sym":1},{"t":"L","x":13.85,"y":-9.55,"ang":0,"cu":0,"s":[[0,0,0.1,1.5,1.5]],"sym":1},{"t":"L","x":11.95,"y":-16.9,"ang":0,"cu":0,"s":[[0,0,-0.1,1.3,1.3]],"sym":1},{"t":"L","x":8.05,"y":-7.9,"ang":0,"cu":0,"s":[[0,0,-0.1,1.3,1.3]],"sym":1},{"t":"A","x":3.25,"y":-11.9,"a":0.06,"k":1.3,"rin":6,"rdec":14,"phi0":-40,"sphi":60,"ph":0.0,"sym":1}]},"t11":{"bg":0.53,"cx":41.0,"cy":41.2,"rings":[{"a":0.012,"k":1.0,"m":-2,"ph":0.0,"rin":14,"rdec":30}],"feats":[{"t":"L","x":6.4,"y":-10.1,"ang":40,"cu":0.0,"s":[[-3.0,0,0.22,0.9,2.2],[0,0,-0.52,1.1,2.7],[3.1,0,0.46,1.1,2.7]],"sym":1},{"t":"L","x":14.8,"y":-14.6,"ang":0,"cu":0,"s":[[0,0,0.12,1.3,1.3]],"sym":1},{"t":"L","x":16.8,"y":-1.2,"ang":0,"cu":0,"s":[[0,0,0.1,1.5,1.5]],"sym":1},{"t":"L","x":10,"y":-17,"ang":0,"cu":0,"s":[[0,0,-0.1,1.3,1.3]],"sym":1},{"t":"A","x":6.4,"y":-10.1,"a":0.06,"k":1.3,"rin":6,"rdec":14,"phi0":-45,"sphi":60,"ph":0.0,"sym":1}]},"t12":{"bg":0.4,"cx":40.5,"cy":41.7,"rings":[{"a":0.01,"k":1.0,"m":2,"ph":0.0,"rin":8,"rdec":25}],"feats":[{"t":"L","x":11.2,"y":-5.1,"ang":68,"cu":0.0,"s":[[0.0,0.0,0.62,1.05,2.3],[-3.5,0.0,-0.5,1.45,2.3],[3.5,0.0,-0.5,1.45,2.3],[-0.3,-8.4,0.1,1.2,1.2],[-0.5,-14.2,0.08,1.3,1.3],[4.7,-7.9,-0.12,1.2,1.2],[6.4,-13.5,-0.06,1.3,1.3],[-4.7,-8.5,-0.06,1.2,1.2]],"sym":1},{"t":"A","x":11.2,"y":-5.1,"a":0.075,"k":1.35,"rin":5.5,"rdec":9,"phi0":-22,"sphi":50,"ph":0.0,"sym":1}]},"t13":{"bg":0.378,"cx":41.0,"cy":41.2,"rings":[{"a":0.01,"k":1.0,"m":2,"ph":0.0,"rin":8,"rdec":25}],"feats":[{"t":"L","x":11.3,"y":0.0,"ang":90,"cu":0.0,"s":[[0.0,0.0,0.62,1.05,2.1],[-3.3,0.0,-0.5,1.45,2.15],[3.3,0.0,-0.5,1.45,2.15],[0.0,-9.6,0.13,1.2,1.2],[0.0,-16,0.06,1.2,1.2],[4.5,-8.5,-0.07,1.2,1.2],[-4.5,-8.5,-0.07,1.2,1.2]],"sym":1},{"t":"A","x":11.3,"y":0.0,"a":0.09,"k":1.35,"rin":5.5,"rdec":9,"phi0":0,"sphi":50,"ph":0.0,"sym":1}]},"t14":{"bg":0.4,"cx":40.1,"cy":41.25,"rings":[{"a":0.01,"k":1.0,"m":-2,"ph":0.0,"rin":8,"rdec":25}],"feats":[{"t":"L","x":-11.2,"y":-5.1,"ang":112,"cu":0.0,"s":[[0.0,-0.0,0.62,1.05,2.3],[-3.5,-0.0,-0.5,1.45,2.3],[3.5,-0.0,-0.5,1.45,2.3],[-0.3,8.4,0.1,1.2,1.2],[-0.5,14.2,0.08,1.3,1.3],[4.7,7.9,-0.12,1.2,1.2],[6.4,13.5,-0.06,1.3,1.3],[-4.7,8.5,-0.06,1.2,1.2]],"sym":1},{"t":"A","x":-11.2,"y":-5.1,"a":0.075,"k":1.35,"rin":5.5,"rdec":9,"phi0":202,"sphi":50,"ph":0.0,"sym":1}]},"t15":{"bg":0.53,"cx":40.1,"cy":41.2,"rings":[{"a":0.012,"k":1.0,"m":2,"ph":0.0,"rin":14,"rdec":30}],"feats":[{"t":"L","x":-6.4,"y":-10.1,"ang":140,"cu":0.0,"s":[[-3.0,0,0.22,0.9,2.2],[0,0,-0.52,1.1,2.7],[3.1,0,0.46,1.1,2.7]],"sym":1},{"t":"L","x":-14.8,"y":-14.6,"ang":180,"cu":0,"s":[[0,0,0.12,1.3,1.3]],"sym":1},{"t":"L","x":-16.8,"y":-1.2,"ang":180,"cu":0,"s":[[0,0,0.1,1.5,1.5]],"sym":1},{"t":"L","x":-10,"y":-17,"ang":180,"cu":0,"s":[[0,0,-0.1,1.3,1.3]],"sym":1},{"t":"A","x":-6.4,"y":-10.1,"a":0.06,"k":1.3,"rin":6,"rdec":14,"phi0":225,"sphi":60,"ph":0.0,"sym":1}]},"t16":{"bg":0.5,"cx":40.9,"cy":40.7,"rings":[{"a":0.015,"k":1.0,"m":2,"ph":0.0,"rin":14,"rdec":30}],"feats":[{"t":"L","x":-3.25,"y":-11.9,"ang":148.3,"cu":0.0,"s":[[-1.8,0,-0.5,1.1,2.8],[1.8,0,0.5,1.1,2.8]],"sym":1},{"t":"L","x":-7.25,"y":-19.5,"ang":180,"cu":0,"s":[[0,0,0.12,1.3,1.3]],"sym":1},{"t":"L","x":-13.85,"y":-9.55,"ang":180,"cu":0,"s":[[0,0,0.1,1.5,1.5]],"sym":1},{"t":"L","x":-11.95,"y":-16.9,"ang":180,"cu":0,"s":[[0,0,-0.1,1.3,1.3]],"sym":1},{"t":"L","x":-8.05,"y":-7.9,"ang":180,"cu":0,"s":[[0,0,-0.1,1.3,1.3]],"sym":1},{"t":"A","x":-3.25,"y":-11.9,"a":0.06,"k":1.3,"rin":6,"rdec":14,"phi0":220,"sphi":60,"ph":0.0,"sym":1}]}};
function cl(x){return x<0?0:(x>1?1:x);}
function jet(v){v=cl(v);return [cl(Math.min(4*v-1.5,-4*v+4.5))*255, cl(Math.min(4*v-0.5,-4*v+3.5))*255, cl(Math.min(4*v+0.5,-4*v+2.5))*255];}
function lobe(f, dx, dy, flip){
  var a=(f.ang+(flip?180:0))*Math.PI/180, c=Math.cos(a), s=Math.sin(a);
  var w=dx*c+dy*s, t=-dx*s+dy*c, v=0;
  w += f.cu*t*t;
  for (var i=0;i<f.s.length;i++){var q=f.s[i], u=w-q[0], z=t-q[1];
    v+=q[2]*Math.exp(-(u*u/(2*q[3]*q[3])+z*z/(2*q[4]*q[4])));}
  return v;
}
function carc(f, dx, dy, flip){
  var r=Math.sqrt(dx*dx+dy*dy), th=Math.atan2(dy,dx)*180/Math.PI - (f.phi0+(flip?180:0));
  th=((th%360)+540)%360-180; var u=r-f.rho;
  return f.a*Math.exp(-u*u/(2*f.srho*f.srho)-th*th/(2*f.sphi*f.sphi));
}
function arc(f, dx, dy, flip){
  var r=Math.sqrt(dx*dx+dy*dy), th=Math.atan2(dy,dx)*180/Math.PI - (f.phi0+(flip?180:0));
  th=((th%360)+540)%360-180;
  var env=(1/(1+Math.exp(-(r-f.rin)/1.2)))*Math.exp(-Math.max(0,r-f.rin)/f.rdec)*Math.exp(-th*th/(2*f.sphi*f.sphi));
  return f.a*env*Math.cos(f.k*r+f.ph);
}
for (var id in P){
  var T=P[id], cv=document.getElementById(id); if(!cv||!cv.getContext) continue;
  var W=cv.width, H=cv.height, ctx=cv.getContext('2d'), im=ctx.createImageData(W,H), d=im.data;
  for (var y=0;y<H;y++) for (var x=0;x<W;x++){
    var v=0, n=0;
    for (var sy=0;sy<2;sy++) for (var sx=0;sx<2;sx++){
      var px=x+0.25+0.5*sx-T.cx, py=y+0.25+0.5*sy-T.cy, val=T.bg;
      var r=Math.sqrt(px*px+py*py), th=Math.atan2(py,px);
      for (var i=0;i<T.rings.length;i++){var R=T.rings[i];
        var env=(1/(1+Math.exp(-(r-R.rin)/1.5)))*Math.exp(-Math.max(0,r-R.rin)/R.rdec);
        val+=R.a*env*Math.cos(R.k*r+R.m*th+R.ph);}
      for (var j=0;j<T.feats.length;j++){var f=T.feats[j], fn=(f.t=='A')?arc:((f.t=='C')?carc:lobe);
        val+=fn(f,px-f.x,py-f.y,0);
        if(f.sym) val+=fn(f,px+f.x,py+f.y,1); }
      v+=val; n++;
    }
    var c=jet(v/n), o=4*(y*W+x); d[o]=c[0]; d[o+1]=c[1]; d[o+2]=c[2]; d[o+3]=255;
  }
  ctx.putImageData(im,0,0);
}
})();

</script>
</body></html>
